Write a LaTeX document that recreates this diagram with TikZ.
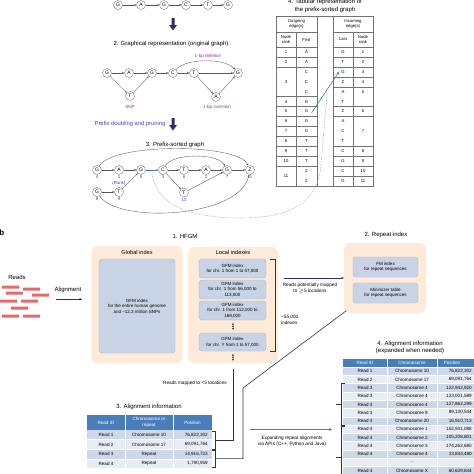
\documentclass[tikz,border=0pt]{standalone}
\usepackage{fontspec}
\setmainfont{Liberation Sans}
\newfontfamily\symfont{DejaVu Sans}
\usetikzlibrary{arrows.meta,positioning,calc}

\definecolor{rankblue}{HTML}{3A48C8}
\definecolor{varpurple}{HTML}{8E3C9A}
\definecolor{navy}{HTML}{2C2F66}
\definecolor{peach}{HTML}{FDEAD8}
\definecolor{gfmfill}{HTML}{C9D3E6}
\definecolor{gfmline}{HTML}{AAB7D0}
\definecolor{hdrblue}{HTML}{4A7EBB}
\definecolor{rowdark}{HTML}{CFD8E8}
\definecolor{rowlight}{HTML}{E8ECF4}
\definecolor{readred}{HTML}{E36B6B}
\definecolor{expgreen}{HTML}{35A535}
\definecolor{hlblue}{HTML}{4B72AE}
\definecolor{dotblue}{HTML}{8FAACB}

\newcommand{\fsz}[1]{\fontsize{#1}{#1}\selectfont}

\begin{document}
\begin{tikzpicture}[x=1pt,y=-1pt,
  nt/.style={circle, draw=black!50, fill=white, line width=0.4pt,
    minimum size=9pt, inner sep=0pt, font=\fsz{5}},
  gedge/.style={draw=black!65, line width=0.35pt, -{Stealth[length=2.2pt,width=2pt]}},
  rank/.style={inner sep=0pt, text=rankblue, font=\fsz{4.4}},
  varlabel/.style={inner sep=0pt, text=varpurple, font=\fsz{4.6}},
  ttl/.style={inner sep=0pt, align=center, font=\fontsize{6}{7.2}\selectfont},
  smalltxt/.style={inner sep=0pt, align=center, font=\fontsize{4.7}{5.6}\selectfont},
  pcell/.style={inner sep=0pt, align=center, font=\fontsize{4.2}{4.8}\selectfont},
  tcell/.style={inner sep=0pt, align=center, font=\fontsize{4.6}{5.4}\selectfont},
  vdotsnode/.style={inner sep=0pt, font=\symfont\bfseries\fsz{7.5}},
  tbl/.style={draw=black!55, line width=0.35pt},
  whitesep/.style={draw=white, line width=0.5pt},
  peachbox/.style={fill=peach, rounded corners=6pt, inner sep=0pt},
  gfmbox/.style={draw=gfmline, fill=gfmfill, line width=0.4pt, rounded corners=3pt,
    inner sep=0pt, align=center, font=\fontsize{4.5}{5.4}\selectfont},
  flow/.style={draw=navy, line width=0.6pt},
  flowarrow/.style={flow, -{Stealth[length=2.6pt,width=2.4pt]}},
  hlarrow/.style={draw=hlblue, line width=0.6pt, -{Stealth[length=2.6pt,width=2.4pt]}},
  greenarrow/.style={draw=expgreen, line width=0.9pt, -{Stealth[length=3pt,width=3pt]}},
  readbar/.style={fill=readred, rounded corners=0.4pt},
  bigdown/.style={fill=navy}
  ]
  \useasboundingbox (0,0) rectangle (474,474);
  \fill[white] (0,0) rectangle (474,474);

  % 1. linear sequence
  \foreach \n/\ch/\x in {s1/G/118, s2/A/141, s3/G/164, s4/C/186, s5/T/208, s6/G/228}
    \node[nt] (\n) at (\x,5) {\ch};
  \foreach \u/\v in {s1/s2, s2/s3, s3/s4, s4/s5, s5/s6}
    \draw[gedge] (\u) -- (\v);
  \fill[bigdown] (171.5,18) -- (174.5,18) -- (174.5,25) -- (177,25) -- (173,30.5) -- (169,25) -- (171.5,25) -- cycle;

  % 2. original graph
  \node[ttl] (t2) at (171,44) {2. Graphical representation (original graph)};
  \foreach \n/\ch/\x/\y in {o1/G/107/73, o2/A/129/73, o3/G/152/73, o4/C/173/73,
      o5/T/194/73, o6/G/238/73, o7/T/130/96, o8/A/216/97}
    \node[nt] (\n) at (\x,\y) {\ch};
  \foreach \u/\v in {o1/o2, o2/o3, o1/o7, o7/o3, o3/o4, o4/o5, o5/o6, o5/o8, o8/o6}
    \draw[gedge] (\u) -- (\v);
  \draw[gedge] (o4) .. controls (186,58) and (225,58) .. (o6);
  \node[varlabel] (del) at (208,56) {1-bp deletion};
  \node[varlabel] (snp) at (130,107) {SNP};
  \node[varlabel] (ins) at (217,107) {1-bp insertion};

  \node[inner sep=0pt, text=rankblue, font=\fsz{5.8}] (pdp) at (130,124) {Prefix doubling and pruning};
  \fill[bigdown] (171.5,118) -- (174.5,118) -- (174.5,125) -- (177,125) -- (173,130.5) -- (169,125) -- (171.5,125) -- cycle;

  % 3. prefix-sorted graph
  \node[ttl] (t3g) at (175,145) {3. Prefix-sorted graph};
  \foreach \n/\ch/\x/\y/\rk in {b4/G/97/170/4, b1/A/119/170/1, b5/G/141/170/5, b3/C/163/170/3,
      b6/T/184/170/6, b2/A/206/170/2, b7/G/227/170/7, b11/Z/250/170/11,
      b8/G/97/192/8, b9/T/119/192/9, b10/T/184/192.5/10}
    \node[nt, label={[rank, label distance=0.6pt]below:\rk}] (\n) at (\x,\y) {\ch};
  \node[rank] (ranktag) at (119,183.5) {(Rank)};
  \foreach \u/\v in {b4/b1, b1/b5, b3/b6, b6/b2, b2/b7, b7/b11, b3/b10, b10/b7, b8/b9, b9/b5}
    \draw[gedge] (\u) -- (\v);
  \draw[gedge, draw=hlblue] (b5) -- (b3);
  \draw[gedge] (b4) .. controls (112,143) and (238,143) .. (b11);
  \draw[gedge] (b3) .. controls (172,153) and (218,153) .. (b7);
  \draw[gedge] (b8) .. controls (118,224) and (240,218) .. (b11);

  % 4. tabular representation
  \node[ttl, font=\fontsize{6}{7.5}\selectfont] (t4) at (325,6) {4. Tabular representation of\\the prefix-sorted graph};
  \draw[tbl] (276,16) rectangle (373,186);
  \foreach \x in {317,333} \draw[tbl] (\x,16) -- (\x,186);
  \foreach \x in {296,353} \draw[tbl] (\x,32) -- (\x,186);
  \foreach \y in {32,47} {
    \draw[tbl] (276,\y) -- (317,\y);
    \draw[tbl] (333,\y) -- (373,\y);
  }
  \foreach \k in {1,2,5,6,7,8,9,10,11,12}
    \draw[tbl] (276,{47+\k*9.93}) -- (317,{47+\k*9.93});
  \foreach \k in {1,2,3,4,6,7,10,11,12,13}
    \draw[tbl] (333,{47+\k*9.93}) -- (373,{47+\k*9.93});
  \node[pcell] (hout) at (296.5,24) {Outgoing\\edge(s)};
  \node[pcell] (hrank1) at (286,39.5) {Node\\rank};
  \node[pcell] (hfirst) at (306.5,39.5) {First};
  \node[pcell] (hin) at (353,24) {Incoming\\edge(s)};
  \node[pcell] (hlast) at (343,39.5) {Last};
  \node[pcell] (hrank2) at (363,39.5) {Node\\rank};
  \foreach \rk/\k in {1/1,2/2,3/4,4/6,5/7,6/8,7/9,8/10,9/11,10/12,11/13.5}
    \node[pcell] (lrank\rk) at (286,{47+(\k-0.5)*9.93}) {\rk};
  \foreach \ch [count=\i] in {A,A,C,C,C,G,G,G,G,T,T,T,Z,Z}
    \node[pcell] (first\i) at (306.5,{47+(\i-0.5)*9.93}) {\ch};
  \foreach \ch [count=\i] in {G,T,G,Z,A,T,Z,A,C,T,C,G,C,G}
    \node[pcell] (last\i) at (343,{47+(\i-0.5)*9.93}) {\ch};
  \foreach \rk/\k in {1/1,2/2,3/3,4/4,5/5,6/7,7/9,8/11,9/12,10/13,11/14}
    \node[pcell] (rrank\rk) at (363,{47+(\k-0.5)*9.93}) {\rk};
  \draw[hlarrow] ([shift={(5,1.5)}]first7.center) -- ([shift={(-4,0)}]last3.center);
  \coordinate (hlstart) at ($(b5)!0.5!(b3)+(0,3)$);
  \coordinate (hlend) at (327,92);
  \draw[dotblue, line width=0.55pt, dash pattern=on 0.7pt off 0.9pt]
    (hlstart) .. controls (156,205) and (190,218) .. (240,218)
    .. controls (295,218) and (318,200) .. (321,165)
    .. controls (323,140) and (326,110) .. (hlend);

  % b. HFGM
  \node[anchor=east, inner sep=0pt, font=\bfseries\fsz{8}] (panelb) at (4.5,233) {b};
  \node[ttl] (thfgm) at (185,236) {1. HFGM};
  \node[ttl] (trep) at (386,235) {2. Repeat index};

  \node[inner sep=0pt, font=\fsz{6}] (reads) at (17,277) {Reads};
  \foreach \x/\y in {2/285.5, 23/287.5, 6/291.5, 32/293.5, 0/299.5, 21/299.5, 11/306.5, 2/314.5, 23/314.5}
    \fill[readbar] (\x,\y) rectangle +(17,3.2);
  \node[inner sep=0pt, font=\fsz{6}] (align) at (68,290) {Alignment};
  \coordinate (al1) at (56,299.3);
  \coordinate (al2) at (82,299.3);
  \draw[flowarrow] (al1) -- (al2);

  \node[peachbox, minimum width=91pt, minimum height=117pt] (global) at (137,304.5) {};
  \node[inner sep=0pt, font=\fsz{5.6}] (globaltitle) at (137,252) {Global index};
  \node[gfmbox, minimum width=76pt, minimum height=94pt] (gfmall) at (137,306)
    {GFM index\\for the entire human genome\\and \textasciitilde12.3 million SNPs};

  \node[peachbox, minimum width=90pt, minimum height=116pt] (local) at (233,305) {};
  \node[inner sep=0pt, font=\fsz{5.6}] (localtitle) at (233,252) {Local indexes};
  \node[gfmbox, minimum width=67pt, minimum height=19pt] (l1) at (232.5,268.5) {GFM index\\for chr. 1 from 1 to 57,000};
  \node[gfmbox, minimum width=67pt, minimum height=19pt] (l2) at (232.5,289.5) {GFM index\\for chr. 1 from 56,000 to\\113,000};
  \node[gfmbox, minimum width=67pt, minimum height=19pt] (l3) at (232.5,310.5) {GFM index\\for chr. 1 from 112,000 to\\169,000};
  \node[vdotsnode] (ldots1) at (233,326.5) {⋮};
  \node[gfmbox, minimum width=67pt, minimum height=18pt] (l4) at (232.5,342) {GFM index\\for chr. Y from 1 to 57,000};
  \node[vdotsnode] (ldots2) at (233,357.5) {⋮};
  \draw[flow, line width=0.5pt] ([xshift=4pt]l1.north east) -| ([xshift=9pt]l4.south east) -- ([xshift=4pt]l4.south east);
  \node[smalltxt, anchor=west, align=left] (nidx) at (281,320) {\textasciitilde55,000\\indexes};

  \node[peachbox, minimum width=82pt, minimum height=70pt] (rep) at (385,278) {};
  \node[gfmbox, minimum width=65pt, minimum height=20pt] (fm) at (385.5,267) {FM index\\for repeat sequences};
  \node[gfmbox, minimum width=65pt, minimum height=20pt] (mini) at (385.5,293) {Minimizer table\\for repeat sequences};

  \coordinate (torep) at (284,278);
  \draw[flowarrow] (torep) -- (torep -| rep.west);
  \node[smalltxt] (potential) at (310,288.5) {Reads potentially mapped\\to $\geq$5 locations};

  % 3. alignment information
  \node[ttl] (t3a) at (149,407) {3. Alignment information};
  \fill[hdrblue] (87,415) rectangle (212,430);
  \foreach \i/\col in {1/rowdark,2/rowlight,3/rowdark,4/rowlight}
    \fill[\col] (87,{430+(\i-1)*9.6}) rectangle (212,{430+\i*9.6});
  \foreach \x in {125,173} \draw[whitesep] (\x,415) -- (\x,468.4);
  \foreach \i in {1,2,3} \draw[whitesep] (87,{430+\i*9.6}) -- (212,{430+\i*9.6});
  \node[tcell, text=white] (h3a) at (106,422.5) {Read ID};
  \node[tcell, text=white] (h3b) at (149,422.5) {Chromosome or\\repeat};
  \node[tcell, text=white] (h3c) at (192.5,422.5) {Position};
  \foreach \i/\rd/\chr/\pos in {1/Read 1/Chromosome 10/{76,822,302}, 2/Read 2/Chromosome 17/{69,091,764},
      3/Read 3/Repeat/{14,916,723}, 4/Read 4/Repeat/{1,790,959}}{
    \node[tcell] (ra\i) at (106,{430+(\i-0.5)*9.6}) {\rd};
    \node[tcell] (rb\i) at (149,{430+(\i-0.5)*9.6}) {\chr};
    \node[tcell, anchor=east] (rc\i) at (208,{430+(\i-0.5)*9.6}) {\pos};
  }
  \draw[flow, line width=0.5pt] (212,431) -| (215,449) -- (212,449);
  \draw[flow, line width=0.5pt] (212,450) -| (215,467.5) -- (212,467.5);
  \coordinate (br12) at (215,440);
  \coordinate (br34) at (215,458.6);
  \draw[flow] ([yshift=-6pt]local.south) |- (br12);
  \node[smalltxt] (fewmap) at (195,383) {Reads mapped to <5 locations};
  \coordinate (repout) at ($(rep.south west)+(2.5,-2.5)$);
  \draw[flow] (repout) -- (243,388) -- (243,458.6) -- (br34);

  % 4. expanded alignment information
  \node[ttl] (t4b) at (410,347.5) {4. Alignment information\\(expanded when needed)};
  \fill[hdrblue] (343,359) rectangle (480,367);
  \foreach \i in {1,...,13}{
    \ifodd\i \def\rowcol{rowdark}\else\def\rowcol{rowlight}\fi
    \fill[\rowcol] (343,{367+(\i-1)*8.3}) rectangle (480,{367+\i*8.3});
  }
  \foreach \x in {387,437} \draw[whitesep] (\x,359) -- (\x,480);
  \foreach \i in {0,...,12} \draw[whitesep] (343,{367+\i*8.3}) -- (480,{367+\i*8.3});
  \node[tcell, text=white] (h4a) at (365,363) {Read ID};
  \node[tcell, text=white] (h4b) at (412,363) {Chromosome};
  \node[tcell, text=white] (h4c) at (452,363) {Position};
  \foreach \i/\rd/\chr/\pos in {1/Read 1/Chromosome 10/{76,822,302}, 2/Read 2/Chromosome 17/{69,091,764},
      3/Read 3/Chromosome 4/{122,942,920}, 4/Read 3/Chromosome 4/{123,001,589},
      5/Read 3/Chromosome 4/{127,862,299}, 6/Read 3/Chromosome 9/{89,130,544},
      7/Read 3/Chromosome 20/{16,910,713}, 8/Read 4/Chromosome 1/{102,931,088},
      9/Read 4/Chromosome 2/{105,208,801}, 10/Read 4/Chromosome 3/{174,262,680},
      11/Read 4/Chromosome 4/{13,844,480}, 13/Read 4/Chromosome X/{60,639,844}}{
    \node[tcell] (xa\i) at (365,{367+(\i-0.5)*8.3}) {\rd};
    \node[tcell] (xb\i) at (412,{367+(\i-0.5)*8.3}) {\chr};
    \node[tcell, anchor=east] (xc\i) at (472,{367+(\i-0.5)*8.3}) {\pos};
  }
  \node[tcell] (xdots) at (412,{367+11.5*8.3}) {...};
  \draw[flow, line width=0.5pt] (345,383.6) -| (341,425) -- (345,425);
  \draw[flow, line width=0.5pt] (341,404.3) -- (336,404.3);
  \draw[flow, line width=0.5pt] (345,426.5) -| (341,490) -- (345,490);
  \draw[flow, line width=0.5pt] (341,457) -- (336,457);

  \coordinate (gstart) at (250,429.5);
  \coordinate (gend) at (332,429.5);
  \draw[greenarrow] (gstart) -- (gend);
  \node[smalltxt] (expand) at (292,441.5) {Expanding repeat alignments\\via APIs (C++, Python and Java)};
\end{tikzpicture}
\end{document}
